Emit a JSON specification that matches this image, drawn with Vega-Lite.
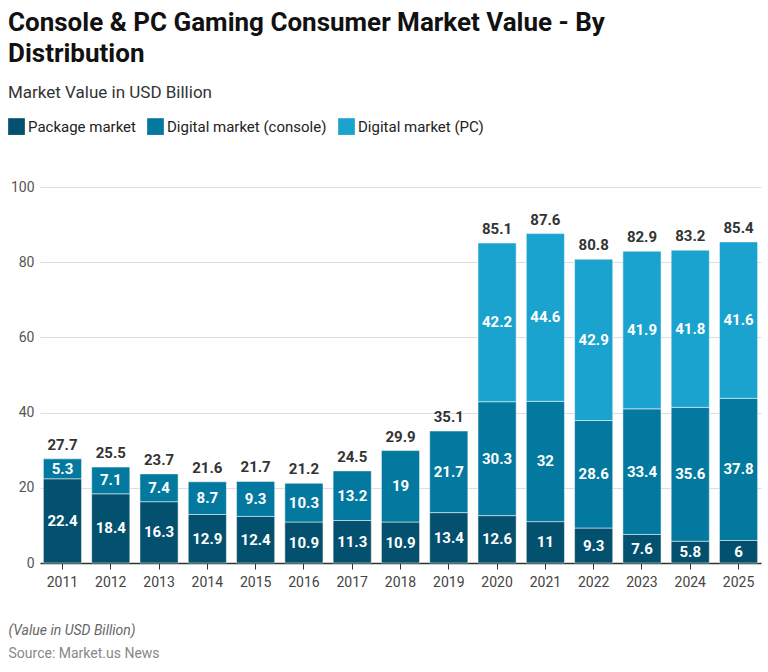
{
  "$schema": "https://vega.github.io/schema/vega-lite/v6.json",
  "width": 721,
  "height": 376,
  "padding": {"left": 8, "top": 10, "right": 6, "bottom": 4},
  "background": "white",
  "config": {
    "font": "Roboto",
    "view": {"stroke": null}
  },
  "title": {
    "text": ["Console & PC Gaming Consumer Market Value - By", "Distribution"],
    "subtitle": "Market Value in USD Billion",
    "anchor": "start",
    "frame": "bounds",
    "font": "Roboto",
    "fontSize": 26,
    "fontWeight": "bold",
    "color": "#111111",
    "lineHeight": 31,
    "subtitleFont": "Roboto",
    "subtitleFontSize": 17,
    "subtitleColor": "#333333",
    "subtitlePadding": 18,
    "offset": 17
  },
  "data": {
    "values": [
      {"year": "2011", "category": "Package market", "value": 22.4},
      {"year": "2011", "category": "Digital market (console)", "value": 5.3},
      {"year": "2012", "category": "Package market", "value": 18.4},
      {"year": "2012", "category": "Digital market (console)", "value": 7.1},
      {"year": "2013", "category": "Package market", "value": 16.3},
      {"year": "2013", "category": "Digital market (console)", "value": 7.4},
      {"year": "2014", "category": "Package market", "value": 12.9},
      {"year": "2014", "category": "Digital market (console)", "value": 8.7},
      {"year": "2015", "category": "Package market", "value": 12.4},
      {"year": "2015", "category": "Digital market (console)", "value": 9.3},
      {"year": "2016", "category": "Package market", "value": 10.9},
      {"year": "2016", "category": "Digital market (console)", "value": 10.3},
      {"year": "2017", "category": "Package market", "value": 11.3},
      {"year": "2017", "category": "Digital market (console)", "value": 13.2},
      {"year": "2018", "category": "Package market", "value": 10.9},
      {"year": "2018", "category": "Digital market (console)", "value": 19},
      {"year": "2019", "category": "Package market", "value": 13.4},
      {"year": "2019", "category": "Digital market (console)", "value": 21.7},
      {"year": "2020", "category": "Package market", "value": 12.6},
      {"year": "2020", "category": "Digital market (console)", "value": 30.3},
      {"year": "2020", "category": "Digital market (PC)", "value": 42.2},
      {"year": "2021", "category": "Package market", "value": 11},
      {"year": "2021", "category": "Digital market (console)", "value": 32},
      {"year": "2021", "category": "Digital market (PC)", "value": 44.6},
      {"year": "2022", "category": "Package market", "value": 9.3},
      {"year": "2022", "category": "Digital market (console)", "value": 28.6},
      {"year": "2022", "category": "Digital market (PC)", "value": 42.9},
      {"year": "2023", "category": "Package market", "value": 7.6},
      {"year": "2023", "category": "Digital market (console)", "value": 33.4},
      {"year": "2023", "category": "Digital market (PC)", "value": 41.9},
      {"year": "2024", "category": "Package market", "value": 5.8},
      {"year": "2024", "category": "Digital market (console)", "value": 35.6},
      {"year": "2024", "category": "Digital market (PC)", "value": 41.8},
      {"year": "2025", "category": "Package market", "value": 6},
      {"year": "2025", "category": "Digital market (console)", "value": 37.8},
      {"year": "2025", "category": "Digital market (PC)", "value": 41.6}
    ]
  },
  "layer": [
    {
      "mark": {"type": "bar", "stroke": "white", "strokeWidth": 0.5},
      "encoding": {
        "x": {
          "field": "year", "type": "ordinal",
          "scale": {"paddingInner": 0.21, "paddingOuter": 0.07},
          "axis": {
            "title": "(Value in USD Billion)",
            "titleFontStyle": "italic",
            "titleFontWeight": "normal",
            "titleFontSize": 14,
            "titleColor": "#666666",
            "titleAnchor": "start",
            "titleAlign": "left",
            "titleBaseline": "alphabetic",
            "titleX": -32,
            "titleY": 71,
            "labelAngle": 0,
            "labelFontSize": 14,
            "labelColor": "#444444",
            "labelPadding": 6,
            "domainColor": "#333333",
            "domainWidth": 1.5,
            "tickColor": "#333333",
            "tickSize": 6
          }
        },
        "y": {
          "field": "value", "type": "quantitative",
          "stack": "zero",
          "scale": {"domain": [0, 100]},
          "axis": {
            "title": null,
            "values": [0, 20, 40, 60, 80, 100],
            "domain": false,
            "ticks": false,
            "labelFontSize": 14,
            "labelColor": "#555555",
            "labelPadding": 6,
            "gridColor": "#dddddd"
          }
        },
        "color": {
          "field": "category", "type": "nominal",
          "sort": ["Package market", "Digital market (console)", "Digital market (PC)"],
          "scale": {
            "domain": ["Package market", "Digital market (console)", "Digital market (PC)"],
            "range": ["#03506f", "#0479a0", "#1ba3cf"]
          },
          "legend": {
            "title": null,
            "orient": "none",
            "direction": "horizontal",
            "legendX": -32,
            "legendY": -69,
            "symbolType": "square",
            "symbolSize": 280,
            "symbolStrokeWidth": 0,
            "labelFontSize": 15,
            "labelColor": "#222222",
            "columnPadding": 11,
            "labelOffset": 3
          }
        }
      }
    },
    {
      "mark": {"type": "text", "color": "white", "fontWeight": "bold", "fontSize": 15, "baseline": "middle"},
      "encoding": {
        "x": {"field": "year", "type": "ordinal", "axis": null},
        "y": {"field": "value", "type": "quantitative", "stack": "zero", "bandPosition": 0.5},
        "detail": {"field": "category", "type": "nominal"},
        "order": {"field": "category", "sort": "descending"},
        "text": {"field": "value", "type": "quantitative"}
      }
    },
    {
      "transform": [
        {"aggregate": [{"op": "sum", "field": "value", "as": "total"}], "groupby": ["year"]}
      ],
      "mark": {"type": "text", "color": "#333333", "fontWeight": "bold", "fontSize": 15, "baseline": "bottom", "dy": -6},
      "encoding": {
        "x": {
          "field": "year", "type": "ordinal",
          "axis": {
            "orient": "bottom",
            "labels": false,
            "ticks": false,
            "domain": false,
            "title": "Source: Market.us News",
            "titleFontWeight": "normal",
            "titleFontSize": 14,
            "titleColor": "#888888",
            "titleAnchor": "start",
            "titleAlign": "left",
            "titleBaseline": "alphabetic",
            "titleX": -32,
            "titleY": 94
          }
        },
        "y": {"field": "total", "type": "quantitative"},
        "text": {"field": "total", "type": "quantitative", "format": ".1f"}
      }
    }
  ],
  "resolve": {"axis": {"x": "independent"}}
}
